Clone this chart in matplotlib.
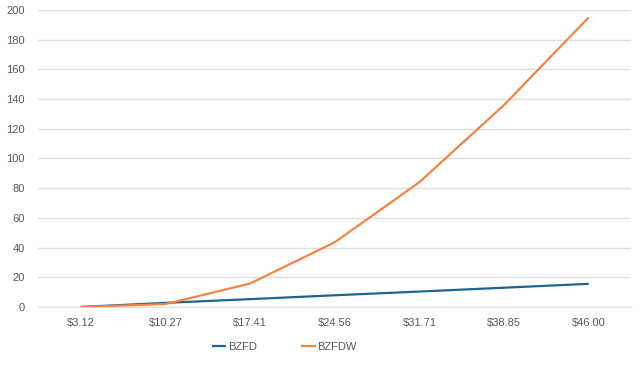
import matplotlib.pyplot as plt
import numpy as np

prices = ["$3.12", "$10.27", "$17.41", "$24.56", "$31.71", "$38.85", "$46.00"]
bzfd = [0, 2.8, 5.3, 7.9, 10.4, 13.0, 15.6]
bzfdw = [0, 2.0, 15.8, 43.6, 84.0, 136.0, 195.0]

plt.rcParams["font.family"] = ["Liberation Sans", "DejaVu Sans"]

fig = plt.figure(figsize=(6.4, 3.69), dpi=100)
ax = fig.add_axes([0.06, 0.168, 0.926, 0.805])

x = np.arange(len(prices))
ax.plot(x, bzfd, color="#1f6391", linewidth=1.6, label="BZFD", solid_capstyle="butt")
ax.plot(x, bzfdw, color="#f28444", linewidth=1.6, label="BZFDW", solid_capstyle="butt")

ax.set_xlim(-0.5, len(prices) - 0.5)
ax.set_ylim(0, 200)
ax.set_yticks(np.arange(0, 201, 20))
ax.set_xticks(x)
ax.set_xticklabels(prices)
ax.grid(axis="y", color="#dedede", linewidth=1.0)
ax.set_axisbelow(True)
for side in ["top", "right", "left"]:
    ax.spines[side].set_visible(False)
ax.spines["bottom"].set_color("#dedede")
ax.tick_params(axis="both", length=0, labelsize=8, colors="#595959", pad=8)
ax.tick_params(axis="y", pad=10)

ax.legend(loc="upper center", bbox_to_anchor=(0.415, -0.085), ncol=2, frameon=False,
          fontsize=8, labelcolor="#595959", handlelength=1.3, handletextpad=0.15,
          columnspacing=4.0)

fig.savefig("out.png", dpi=100)
